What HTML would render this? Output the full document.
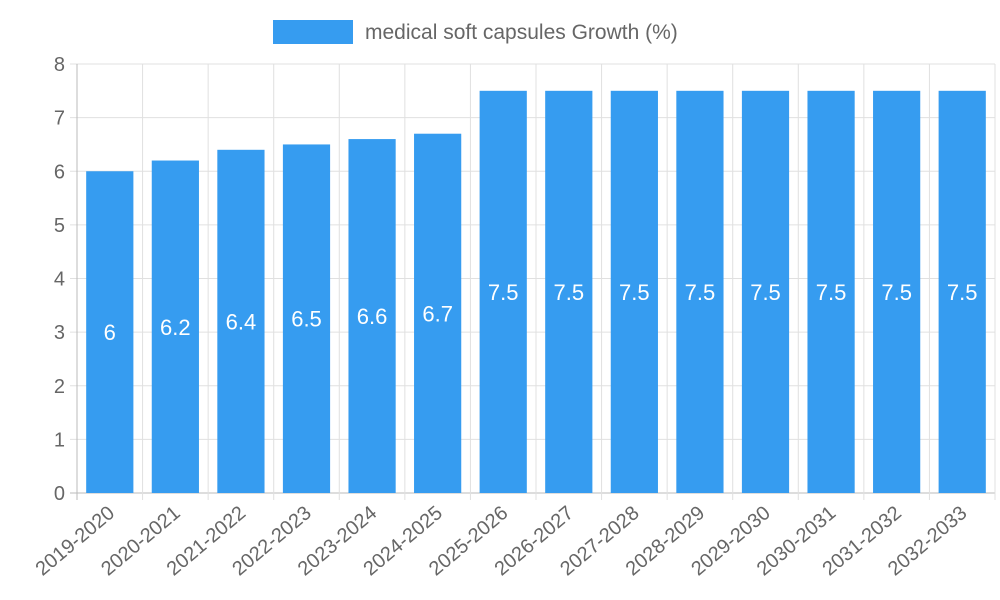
<!DOCTYPE html>
<html><head><meta charset="utf-8"><style>
body{margin:0;background:#fff;}
svg{display:block;font-family:"Liberation Sans",sans-serif;}
</style></head><body>
<svg id="chart" width="1000" height="600">
<g>
<rect x="273" y="20" width="80" height="24" fill="#369cf0"></rect>
<text x="365" y="39" font-size="21" fill="#666">medical soft capsules Growth (%)</text>
</g>
<g id="grid"></g>
<g id="bars"></g>
<g id="axes"></g>
</svg>
<script>
const categories=["2019-2020","2020-2021","2021-2022","2022-2023","2023-2024","2024-2025","2025-2026","2026-2027","2027-2028","2028-2029","2029-2030","2030-2031","2031-2032","2032-2033"];
const growthValues=[6,6.2,6.4,6.5,6.6,6.7,7.5,7.5,7.5,7.5,7.5,7.5,7.5,7.5];
const yTicks=[0,1,2,3,4,5,6,7,8];

const NS="http://www.w3.org/2000/svg";
const L=77,R=995,T=64,B=493,yMax=8;
const band=(R-L)/categories.length;
const y=v=>B-(v/yMax)*(B-T);
const x=i=>L+i*band;
function mk(tag,attrs,parent){const e=document.createElementNS(NS,tag);for(const k in attrs)e.setAttribute(k,attrs[k]);parent.appendChild(e);return e;}
const grid=document.getElementById('grid'),bars=document.getElementById('bars'),axes=document.getElementById('axes');
yTicks.forEach(t=>{
  const ln=mk('line',{x1:L-7,x2:R,y1:y(t),y2:y(t),stroke:t===0?'#bbb':'#e0e0e0','stroke-width':1},grid);
  
  
  const tx=mk('text',{x:L-12,y:y(t)+7,'text-anchor':'end','font-size':20,fill:'#666'},axes);
  tx.textContent=t;
  
  
});
for(let i=0;i<=categories.length;i++){
  const ln=mk('line',{x1:x(i),x2:x(i),y1:T,y2:B+7,stroke:i===0?'#bbb':'#e0e0e0','stroke-width':1},grid);
  
  
}
categories.forEach((c,i)=>{
  const bw=band*0.72,cx=x(i)+band/2,v=growthValues[i];
  const r=mk('rect',{x:cx-bw/2,y:y(v),width:bw,height:B-y(v),fill:'#369cf0'},bars);
  
  
  const lb=mk('text',{x:cx,y:(y(v)+B)/2+8,'text-anchor':'middle','font-size':22,fill:'#fff'},bars);
  lb.textContent=v;
  
  
  const tx=mk('text',{x:cx+6,y:B+22,'text-anchor':'end','font-size':20,fill:'#666',transform:`rotate(-40 ${cx+6} ${B+22})`},axes);
  tx.textContent=c;
  
  
});
</script>
</body></html>
